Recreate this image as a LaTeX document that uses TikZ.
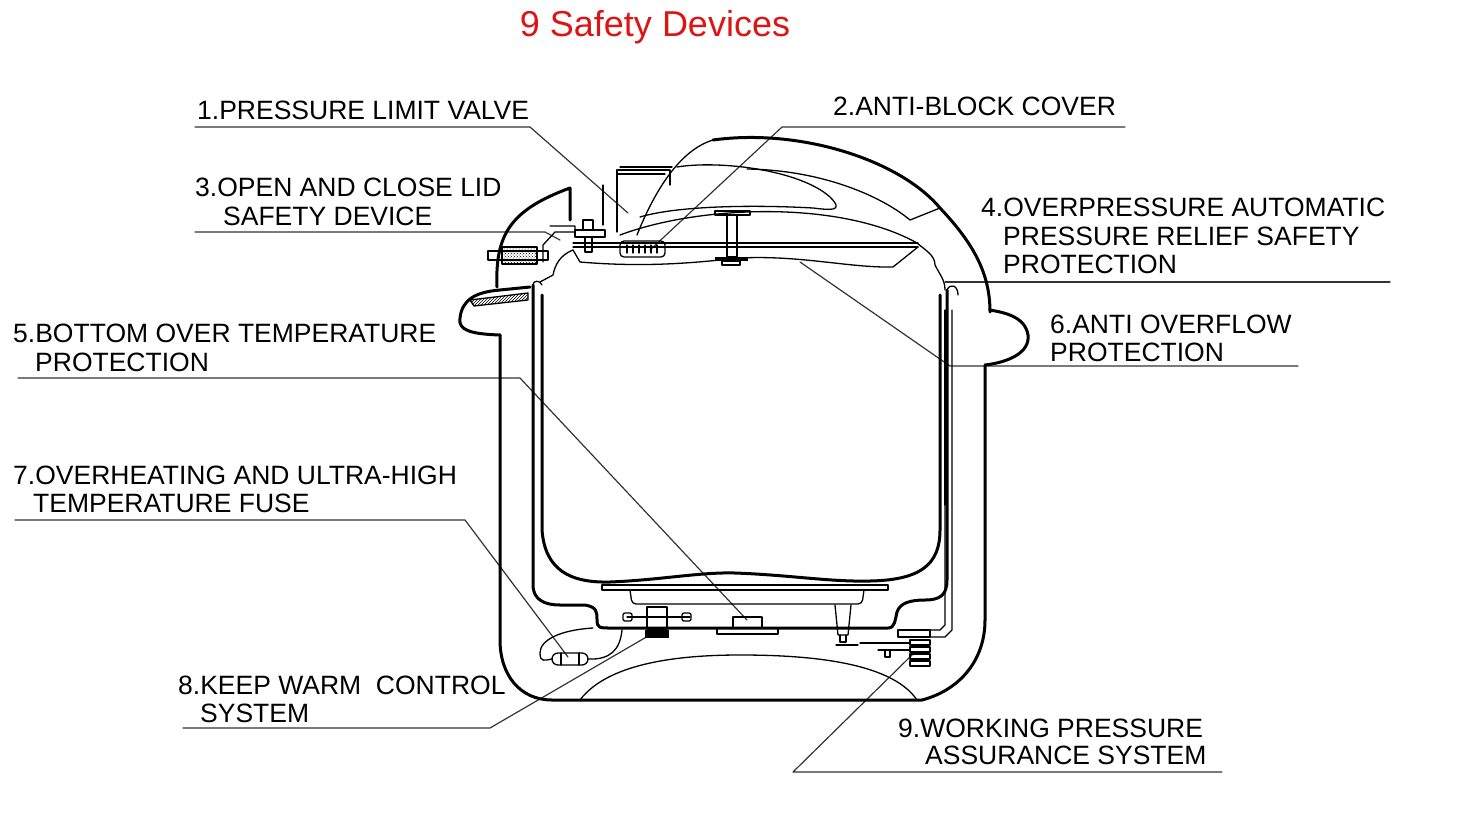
\documentclass[tikz,border=0pt]{standalone}
\usepackage{fontspec}
\setmainfont{Liberation Sans}
\usetikzlibrary{patterns}
\begin{document}
\begin{tikzpicture}[x=1pt,y=-1pt,line join=round,line cap=round,
  lbl/.style={anchor=base west,inner sep=0pt,font=\fontsize{26.5}{26.5}\selectfont},
  lead/.style={line width=1.2pt,black!80},
  thick/.style={line width=3pt},
  thin/.style={line width=1.3pt}]
\useasboundingbox (0,0) rectangle (1466,825);
\node[anchor=base,inner sep=0pt,text={rgb,255:red,220;green,20;blue,20},font=\fontsize{36}{36}\selectfont] (title) at (655,36) {9 Safety Devices};

% ---------- labels ----------
\node[lbl] (l1) at (197,119) {1.PRESSURE LIMIT VALVE};
\node[lbl] (l2) at (833,115) {2.ANTI-BLOCK COVER};
\node[lbl] (l3a) at (195,196) {3.OPEN AND CLOSE LID};
\node[lbl] (l3b) at (223,225) {SAFETY DEVICE};
\node[lbl] (l4a) at (981,216) {4.OVERPRESSURE AUTOMATIC};
\node[lbl] (l4b) at (1003,245) {PRESSURE RELIEF SAFETY};
\node[lbl] (l4c) at (1003,273) {PROTECTION};
\node[lbl] (l5a) at (13,342) {5.BOTTOM OVER TEMPERATURE};
\node[lbl] (l5b) at (35,371) {PROTECTION};
\node[lbl] (l6a) at (1050,333) {6.ANTI OVERFLOW};
\node[lbl] (l6b) at (1050,361) {PROTECTION};
\node[lbl] (l7a) at (13,484) {7.OVERHEATING AND ULTRA-HIGH};
\node[lbl] (l7b) at (33,512) {TEMPERATURE FUSE};
\node[lbl] (l8a) at (178,694) {8.KEEP WARM\ \ CONTROL};
\node[lbl] (l8b) at (200,722) {SYSTEM};
\node[lbl] (l9a) at (898,737) {9.WORKING PRESSURE};
\node[lbl] (l9b) at (925,764) {ASSURANCE SYSTEM};

% underline / leader coordinates
\coordinate (u1a) at (195,127); \coordinate (u1b) at (530,127); \coordinate (t1) at (628,213);
\coordinate (u2a) at (1125,127); \coordinate (u2b) at (782,127); \coordinate (t2) at (650,250);
\coordinate (u3a) at (195,232); \coordinate (u3b) at (545,232); \coordinate (t3) at (560,240);
\coordinate (u4a) at (1390,282); \coordinate (u4b) at (945,282);
\coordinate (u5a) at (18,378); \coordinate (u5b) at (520,378); \coordinate (t5) at (747,620);
\coordinate (u6a) at (1298,366); \coordinate (u6b) at (950,366); \coordinate (t6) at (800,262);
\coordinate (u7a) at (15,520); \coordinate (u7b) at (465,520); \coordinate (t7) at (568,657);
\coordinate (u8a) at (183,728); \coordinate (u8b) at (490,728); \coordinate (t8) at (655,632);
\coordinate (u9a) at (1222,772); \coordinate (u9b) at (793,772); \coordinate (t9) at (915,652);

\draw[lead] (u1a) -- (u1b) -- (t1);
\draw[lead] (u2a) -- (u2b) -- (t2);
\draw[lead] (u3a) -- (u3b) -- (t3);
\draw[lead] (u4a) -- (u4b);
\draw[lead] (u5a) -- (u5b) -- (t5);
\draw[lead] (u6a) -- (u6b) -- (t6);
\draw[lead] (u7a) -- (u7b) -- (t7);
\draw[lead] (u8a) -- (u8b) -- (t8);
\draw[lead] (u9a) -- (u9b) -- (t9);

% ---------- cooker body ----------
\draw[thick] (500,335) -- (500,640) .. controls (500,675) and (520,700) .. (552,700) -- (922,700)
  .. controls (960,690) and (985,660) .. (985,620) -- (985,365);
\draw[thick] (530,287) -- (500,290) .. controls (475,292) and (462,300) .. (460,318)
  .. controls (458,330) and (470,334) .. (500,335);
\draw[thick] (990,310) .. controls (1000,312) and (1025,315) .. (1028,335)
  .. controls (1030,352) and (1010,362) .. (985,365);
\draw[pattern=north east lines,thin] (470,300) -- (528,293) -- (528,300) -- (474,306) -- cycle;
\draw[thick] (497,287) .. controls (495,235) and (510,210) .. (570,188) -- (570,220);
\draw[thick] (713,140) .. controls (800,128) and (900,160) .. (940,208)
  .. controls (975,245) and (990,275) .. (990,312);
\draw[thin] (637,235) .. controls (655,190) and (680,150) .. (713,140);
\draw[thin] (677,167) .. controls (720,160) and (800,170) .. (830,197)
  .. controls (845,212) and (830,210) .. (813,208) .. controls (760,205) and (680,205) .. (640,217);
\draw[thin] (747,169) .. controls (820,170) and (880,195) .. (910,220) -- (940,208);
\draw[thin] (620,235) .. controls (700,205) and (840,200) .. (917,243);
\draw[thin] (573,243) -- (918,243); \draw[thin] (573,247) -- (918,247);
\draw[thin] (573,250) -- (580,262) .. controls (650,268) and (700,262) .. (740,258)
  .. controls (800,255) and (850,268) .. (893,267) -- (918,247);
\draw[thin] (917,243) .. controls (925,250) and (935,255) .. (935,265) .. controls (940,275) and (945,280) .. (945,290);
\draw[thin] (573,250) .. controls (560,255) and (555,265) .. (553,275) -- (540,282);
\draw[thin] (727,215) rectangle (737,257);
\draw[thin] (715,211) rectangle (750,215);
\fill (715,257) rectangle (748,261);
\draw[thin] (722,261) rectangle (740,265);
\draw[thin] (617,232) -- (617,170) -- (670,170) -- (670,185);
\draw[thin] (617,174) -- (665,174);
\draw[thin] (620,167) -- (672,167);
\draw[thin] (603,185) -- (603,225);
\draw[thin] (575,230) rectangle (605,237);
\draw[thin] (583,220) rectangle (593,230);
\draw[thin] (585,237) rectangle (592,252);
\draw[thin] (550,226) -- (575,226) -- (575,232) -- (555,232) -- (543,245) -- (543,262);
\draw[thin,rounded corners=4pt] (620,241) rectangle (665,257);
\foreach \x in {627,633,639,645,651,657} \draw[thin] (\x,245) -- (\x,253);
\draw[thin] (488,251) rectangle (548,260);
\draw[thin,pattern=crosshatch dots] (502,247) rectangle (537,264);
\draw[thick] (533,285) -- (533,585) .. controls (533,600) and (545,605) .. (560,605)
  -- (585,605) .. controls (597,607) and (597,612) .. (597,620) .. controls (597,628) and (600,628) .. (610,628)
  -- (888,628) .. controls (895,628) and (895,620) .. (897,612) .. controls (900,603) and (910,600) .. (925,600)
  .. controls (940,600) and (947,595) .. (947,580) -- (947,290);
\draw[thin] (533,285) .. controls (533,280) and (540,280) .. (542,285);
\draw[thin] (947,290) .. controls (950,283) and (958,285) .. (958,295);
\draw[thick] (542,295) -- (542,530) .. controls (545,570) and (570,583) .. (610,582)
  .. controls (660,580) and (700,572) .. (735,573) .. controls (790,575) and (830,582) .. (870,581)
  .. controls (920,580) and (940,565) .. (940,530) -- (940,295);
\draw[thin] (945,310) -- (945,505);
\draw[thin] (952,310) -- (952,630) -- (945,637) -- (900,637);
\draw[thin] (945,505) -- (945,625) -- (940,630) -- (900,630);
\draw[thin] (602,585) rectangle (888,590);
\draw[thin,rounded corners=4pt] (630,590) -- (632,604) -- (862,604) -- (864,590);
\draw[thin] (647,607) rectangle (667,629);
\draw[thin] (647,617) -- (667,617);
\fill (645,630) rectangle (669,638);
\draw[thin] (627,617) -- (690,617);
\draw[thin,rounded corners=2pt] (623,613) rectangle (632,621);
\draw[thin,rounded corners=2pt] (682,613) rectangle (691,621);
\draw[thin] (733,617) rectangle (762,628);
\draw[thin] (717,628) rectangle (778,634);
\draw[thin] (835,605) -- (838,635) -- (848,635) -- (851,605);
\draw[thin] (840,635) -- (840,642) -- (846,642) -- (846,635);
\draw[thin,rounded corners=6pt] (552,653) rectangle (588,665);
\draw[thin] (561,653) -- (561,665); \draw[thin] (579,653) -- (579,665);
\draw[thin] (593,628) .. controls (560,630) and (540,640) .. (540,653)
  .. controls (540,663) and (545,660) .. (552,659);
\draw[thin] (588,659) .. controls (610,660) and (620,650) .. (622,630);
\draw[thin] (898,630) rectangle (930,637);
\foreach \y in {640,647,654,661} \draw[thin] (910,\y) rectangle (930,\y+5);
\draw[thin] (860,643) -- (910,643);
\draw[thin] (878,650) -- (910,650);
\draw[thin] (885,650) rectangle (890,657);
\draw[thin] (836,645) -- (858,645);
\draw[thin] (580,700) .. controls (610,660) and (690,655) .. (740,655)
  .. controls (800,655) and (890,660) .. (917,700);
\end{tikzpicture}
\end{document}
